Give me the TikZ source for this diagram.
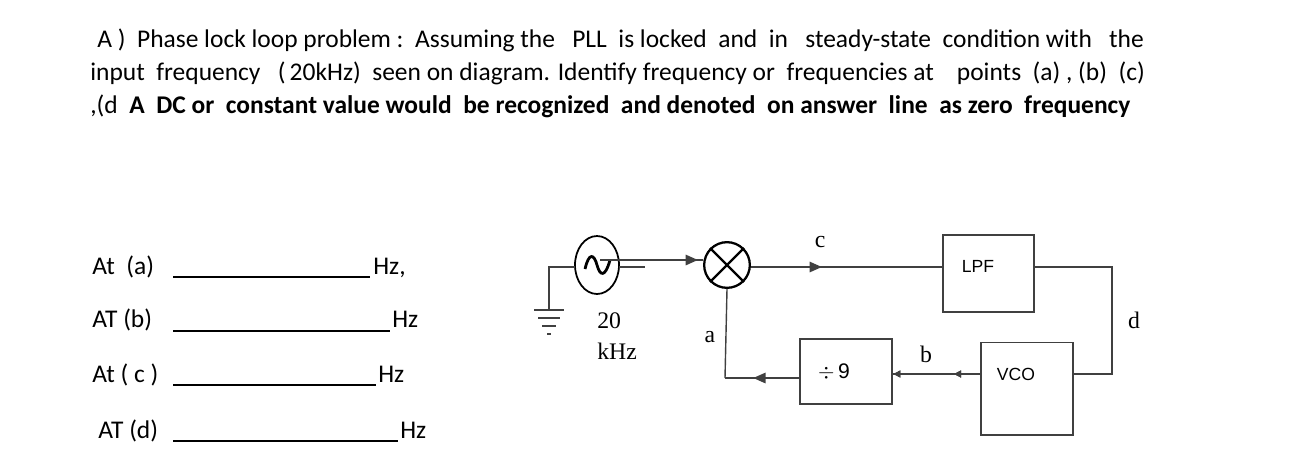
\documentclass[tikz,border=0pt]{standalone}
\usepackage{fontspec}
\setmainfont{Carlito}
\newfontfamily\serifd{Liberation Serif}
\newfontfamily\sansd{Liberation Sans}
\usetikzlibrary{arrows.meta,decorations.markings}
\begin{document}
\begin{tikzpicture}[x=0.02cm,y=-0.02cm,
  wire/.style={draw=black!75,line width=0.8pt},
  blk/.style={draw=black!75,line width=0.8pt,inner sep=0pt},
  txt/.style={anchor=base west,inner sep=0pt,font=\fontsize{14.5}{17}\selectfont},
  lbl/.style={font=\serifd\fontsize{13.5}{15}\selectfont,inner sep=0pt},
  arr/.style={postaction={decorate},decoration={markings,mark=at position #1 with {\arrow{Triangle[length=7pt,width=6pt]}}}},
  sarr/.style={postaction={decorate},decoration={markings,mark=at position #1 with {\arrow{Triangle[length=4pt,width=4pt]}}}}]
\useasboundingbox (0,0) rectangle (1290,474);
% header
\node[txt] (h1) at (97,47) {A )\ \ Phase lock loop problem :\ \ Assuming the\ \ \ PLL\ \ is locked\ \ and\ \ in\ \ \ steady-state\ \ condition with\ \ \ the};
\node[txt] (h2) at (90,80) {input\ \ frequency\ \ \ (\,20kHz)\ \ seen on diagram. Identify frequency or\ \ frequencies at\ \ \ \ points\ \ (a) , (b)\ \ (c)};
\node[txt] (h3) at (90,113) {,(d\ \ \textbf{A\ \ DC or\ \ constant value would\ \ be recognized\ \ and denoted\ \ on answer\ \ line\ \ as zero\ \ frequency}};
% answers
\node[txt] (q1) at (92,274) {At\ \ (a)};
\draw[line width=0.6pt] (173,277) -- (370,277); \node[txt] (u1) at (373,274) {Hz,};
\node[txt] (q2) at (92,327) {AT (b)};
\draw[line width=0.6pt] (173,331) -- (390,331); \node[txt] (u2) at (392,327) {Hz};
\node[txt] (q3) at (92,382) {At ( c )};
\draw[line width=0.6pt] (173,385) -- (376,385); \node[txt] (u3) at (378,382) {Hz};
\node[txt] (q4) at (98,438) {AT (d)};
\draw[line width=0.6pt] (173,441) -- (398,441); \node[txt] (u4) at (400,438) {Hz};
% source
\draw[line width=1pt] (597,265) ellipse (22 and 29);
\draw[line width=1.6pt] (585,269) .. controls (589,252) and (594,254) .. (597,265) .. controls (600,276) and (605,278) .. (610,260);
\coordinate (sl) at (575,267);
\draw[wire] (sl) -- (549,267) -- (549,310);
\draw[wire] (534,310) -- (564,310) (538,318) -- (560,318) (542,326) -- (556,326) (547,334) -- (551,334);
\node[lbl,anchor=west] (f1) at (597,321) {20};
\node[lbl,anchor=west] (f2) at (597,351) {kHz};
% multiplier
\node[draw,circle,line width=1.3pt,minimum size=26pt,inner sep=0pt] (mx) at (727,265) {};
\draw[line width=1.3pt] (mx.north west) -- (mx.south east) (mx.north east) -- (mx.south west);
\draw[wire,arr=0.95] (600,260) -- (mx.west|-0,260);
\draw[wire] (619,267) -- (645,267);
% blocks
\node[blk,minimum width=51.6pt,minimum height=43.7pt] (lpf) at (988.5,273.5) {};
\node[font=\sansd\fontsize{10}{12}\selectfont] at (978,266) {LPF};
\node[blk,minimum width=52.2pt,minimum height=52.7pt] (vco) at (1027,388.5) {};
\node[font=\sansd\fontsize{10}{12}\selectfont] at (1016,374) {VCO};
\node[blk,minimum width=52.2pt,minimum height=36.9pt] (div) at (846,371.5) {};
\node[font=\sansd\fontsize{12}{14}\selectfont] at (834,372) {$\div$\,9};
% connections
\draw[wire,arr=0.37] (mx.east|-0,267) -- (lpf.west|-0,267);
\draw[wire] (lpf.east|-0,267) -- (1112,267) -- (1112,374) -- (vco.east|-0,374);
\draw[wire,sarr=0.3,sarr=0.99] (vco.west|-0,374) -- (div.east|-0,374);
\coordinate (fb) at (725,378);
\draw[wire,arr=0.62] (div.west|-0,378) -- (fb);
\draw[wire] (fb) -- (mx.south);
\node[lbl] (lc) at (820,242) {c};
\node[lbl] (ld) at (1134,320) {d};
\node[lbl] (lb) at (926,354) {b};
\node[lbl] (la) at (710,337) {a};
\end{tikzpicture}
\end{document}
